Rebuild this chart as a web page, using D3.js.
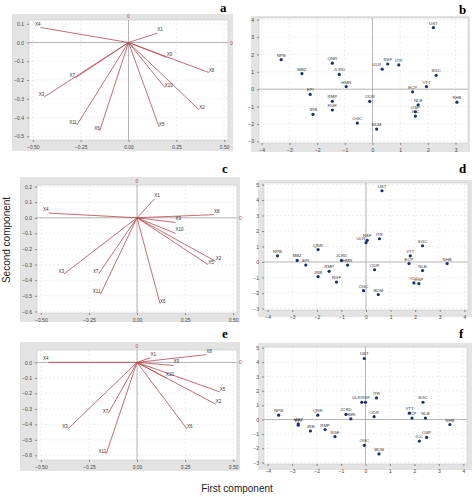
<!DOCTYPE html>
<html><head><meta charset="utf-8">
<script src="https://cdn.jsdelivr.net/npm/d3@7"></script>
<style>body{margin:0;background:#fff}</style></head>
<body><svg id="c" width="474" height="497"></svg>
<script>
const vars=["X1","X2","X3","X4","X5","X6","X7","X8","X9","X10","X11"];
const loadA=[[0.15,0.05],[0.37,-0.36],[-0.44,-0.29],[-0.46,0.08],[0.16,-0.45],[-0.15,-0.47],[-0.28,-0.19],[0.42,-0.16],[0.2,-0.08],[0.19,-0.24],[-0.27,-0.44]];
const loadC=[[0.09,0.12],[0.41,-0.28],[-0.38,-0.36],[-0.46,0.03],[0.37,-0.3],[0.12,-0.55],[-0.2,-0.36],[0.4,0.02],[0.2,-0.03],[0.2,-0.1],[-0.19,-0.49]];
const loadE=[[0.07,0.03],[0.41,-0.27],[-0.36,-0.43],[-0.46,0.0],[0.43,-0.19],[0.26,-0.43],[-0.15,-0.33],[0.36,0.05],[0.19,-0.02],[0.15,-0.1],[-0.16,-0.59]];
const sites=["NPB","MBZ","QNR","JCRD","HMR","EPI","RMP","RGF","JRB","ODR","OGC","BDM","ULR","RSF","ITR","UST","SGC","VTT","ECP","NLB","OSP","ICC","NHB"];
const scoreB=[[-3.3,1.7],[-2.55,0.9],[-1.45,1.5],[-1.2,0.85],[-0.95,0.15],[-2.25,-0.3],[-1.45,-0.7],[-1.45,-1.2],[-2.15,-1.45],[-0.1,-0.7],[-0.55,-1.95],[0.15,-2.3],[0.35,1.15],[0.55,1.45],[0.95,1.4],[2.2,3.55],[2.3,0.8],[1.95,0.15],[1.45,-0.15],[1.65,-0.9],[1.55,-1.3],[1.55,-1.55],[3.05,-0.75]];
const scoreD=[[-3.6,0.4],[-2.8,0.1],[-1.95,0.8],[-1.0,0.1],[-0.75,-0.2],[-2.45,-0.2],[-1.5,-0.6],[-1.2,-1.3],[-1.95,-0.95],[0.35,-0.5],[-0.1,-1.85],[0.5,-2.1],[0.0,1.25],[0.05,1.4],[0.55,1.5],[0.65,4.6],[2.3,1.05],[1.8,0.4],[1.75,-0.1],[2.3,-0.55],[2.15,-1.4],[1.95,-1.35],[3.3,-0.1]];
const scoreF=[[-3.55,0.3],[-2.75,-0.3],[-1.95,0.3],[-0.8,0.35],[-0.6,0.05],[-2.75,-0.4],[-1.65,-0.7],[-1.25,-1.2],[-2.25,-0.8],[0.35,0.2],[-0.05,-1.8],[0.55,-2.4],[-0.15,1.2],[0.0,1.2],[0.45,1.5],[-0.05,4.25],[2.35,1.2],[1.8,0.45],[1.9,0.1],[2.45,0.1],[2.5,-1.25],[2.2,-1.5],[3.45,-0.35]];
const ticksL=[-0.5,-0.25,0,0.25,0.5];

const svg=d3.select("#c");
const F="Liberation Sans, Arial, sans-serif";
function frame(fx,fy,fw,fh,px0,px1,py0,py1,xd,yd){
  const g=svg.append("g");
  g.append("rect").attr("x",fx).attr("y",fy).attr("width",fw).attr("height",fh).attr("fill","#e3e3e3");
  const x=d3.scaleLinear().domain(xd).range([px0,px1]);
  const y=d3.scaleLinear().domain(yd).range([py1,py0]);
  g.append("rect").attr("x",px0).attr("y",py0).attr("width",px1-px0).attr("height",py1-py0).attr("fill","#fff").attr("stroke","#c8c8c8").attr("stroke-width",0.6);
  return {g,x,y};
}
function grid(p,xt,yt,xf,yf){
  const {g,x,y}=p;
  const [x0,x1]=x.range(),[y1,y0]=y.range();
  xt.forEach(t=>g.append("line").attr("x1",x(t)).attr("x2",x(t)).attr("y1",y0).attr("y2",y1).attr("stroke","#ddd").attr("stroke-width",0.5).attr("stroke-dasharray","2,2"));
  yt.forEach(t=>g.append("line").attr("y1",y(t)).attr("y2",y(t)).attr("x1",x0).attr("x2",x1).attr("stroke","#ddd").attr("stroke-width",0.5).attr("stroke-dasharray","2,2"));
  const ax=g.append("g").attr("transform",`translate(0,${y1})`).call(d3.axisBottom(x).tickValues(xt).tickFormat(xf).tickSize(2));
  const ay=g.append("g").attr("transform",`translate(${x0},0)`).call(d3.axisLeft(y).tickValues(yt).tickFormat(yf).tickSize(2));
  [ax,ay].forEach(a=>{a.select(".domain").remove();a.selectAll("line").attr("stroke","#888");a.selectAll("text").attr("font-size",5).attr("font-family",F).attr("fill","#444");});
  g.append("line").attr("x1",x(0)).attr("x2",x(0)).attr("y1",y0).attr("y2",y1).attr("stroke","#999").attr("stroke-width",0.7);
  g.append("line").attr("y1",y(0)).attr("y2",y(0)).attr("x1",x0).attr("x2",x1).attr("stroke","#999").attr("stroke-width",0.7);
}
function biplot(fx,fy,fw,fh,px0,px1,py0,py1,yd,yt,data){
  const p=frame(fx,fy,fw,fh,px0,px1,py0,py1,[-0.52,0.52],yd);
  grid(p,ticksL,yt,d3.format(".2f"),d3.format(".1f"));
  const {g,x,y}=p;
  g.append("text").attr("x",x(0)).attr("y",py0-2).attr("text-anchor","middle").attr("font-size",5).attr("fill","#b04050").attr("font-family",F).text("0");
  g.append("text").attr("x",px1+2).attr("y",y(0)+2).attr("font-size",5).attr("fill","#b04050").attr("font-family",F).text("0");
  data.forEach((d,i)=>{
    g.append("line").attr("x1",x(0)).attr("y1",y(0)).attr("x2",x(d[0])).attr("y2",y(d[1])).attr("stroke","#b5474f").attr("stroke-width",0.8);
    g.append("text").attr("x",x(d[0])).attr("y",y(d[1])+(d[1]<-0.1?-1:-2)).attr("text-anchor",d[0]<0?"end":"start").attr("font-size",4.5).attr("fill","#333").attr("font-family",F).text(vars[i]);
  });
}
function scores(fx,fy,fw,fh,px0,px1,py0,py1,xd,yd,xt,yt,data){
  const p=frame(fx,fy,fw,fh,px0,px1,py0,py1,xd,yd);
  grid(p,xt,yt,d3.format("d"),d3.format("d"));
  const {g,x,y}=p;
  data.forEach((d,i)=>{
    g.append("circle").attr("cx",x(d[0])).attr("cy",y(d[1])).attr("r",1.6).attr("fill","#1a2f6e");
    const s=sites[i];
    const anchor=s==="ULR"?"end":"middle";
    g.append("text").attr("x",x(d[0])+(s==="ULR"?-1:0)).attr("y",y(d[1])-3).attr("text-anchor",anchor).attr("font-size",4.3).attr("fill","#333").attr("font-family",F).text(s);
  });
}
biplot(12,14,221,137,29,228,20,140,[-0.52,0.12],[0.1,0,-0.1,-0.2,-0.3,-0.4,-0.5],loadA);
scores(251,16,219,136,259,468,18,143,[-4.1,3.45],[-3.1,4.1],d3.range(-4,4),d3.range(-3,5),scoreB);
biplot(20,177,220,145,37,237,185,313,[-0.61,0.21],[0.2,0.1,0,-0.1,-0.2,-0.3,-0.4,-0.5,-0.6],loadC);
scores(258,180,214,137,264,468,183,310,[-4.15,4.15],[-3.1,5.1],d3.range(-4,5),d3.range(-3,6),scoreD);
biplot(20,342,220,129,37,237,350,460,[-0.63,0.08],[0,-0.1,-0.2,-0.3,-0.4,-0.5,-0.6],loadE);
scores(258,343,214,127,264,467,347,464,[-4.15,4.15],[-3.1,5.05],d3.range(-4,5),d3.range(-3,6),scoreF);
const lab=[["a",220,12],["b",459,14],["c",222,173],["d",459,173],["e",222,338],["f",459,338]];
lab.forEach(l=>svg.append("text").attr("x",l[1]).attr("y",l[2]).attr("font-size",13).attr("font-weight","bold").attr("font-family","Liberation Serif, serif").text(l[0]));
svg.append("text").attr("transform","translate(10,240) rotate(-90)").attr("text-anchor","middle").attr("font-size",10).attr("font-family",F).attr("fill","#222").text("Second component");
svg.append("text").attr("x",237).attr("y",492).attr("text-anchor","middle").attr("font-size",10).attr("font-family",F).attr("fill","#222").text("First component");
</script></body></html>
